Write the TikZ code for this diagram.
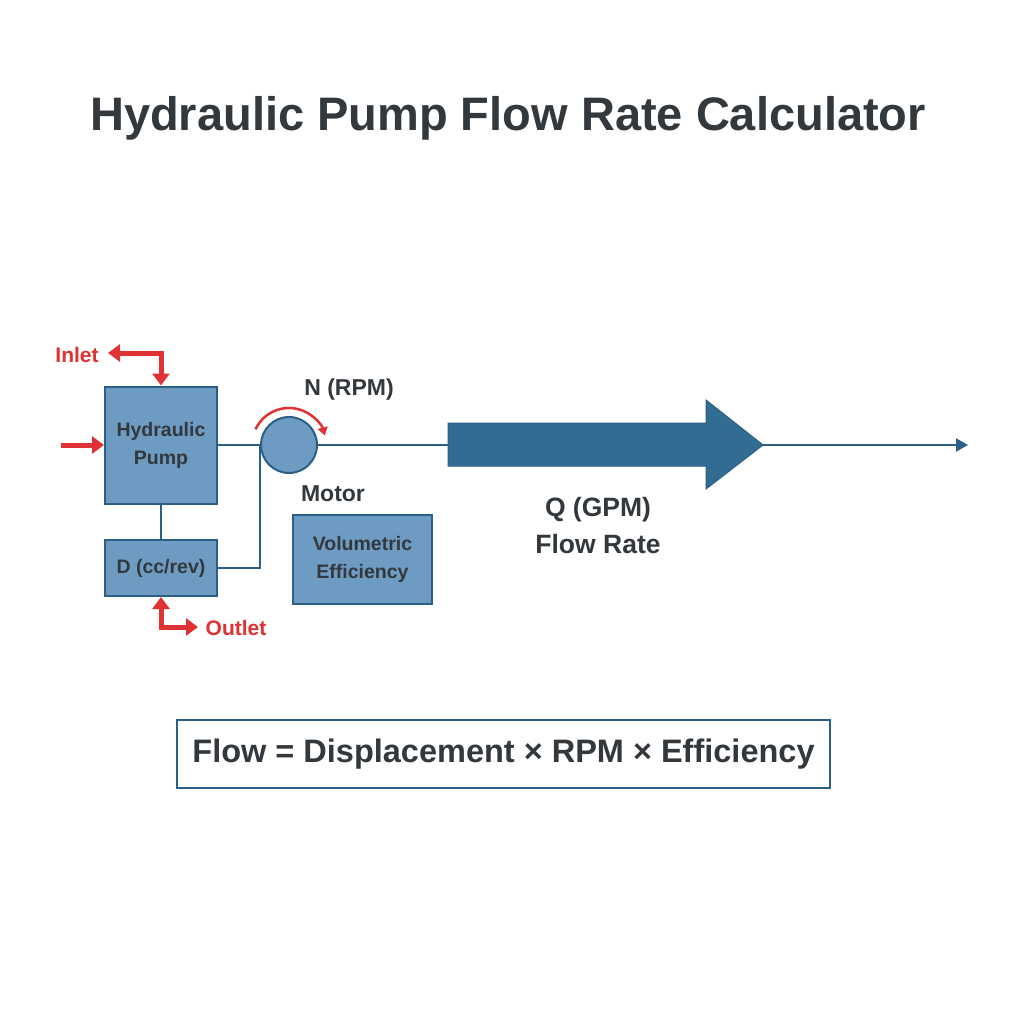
\documentclass[tikz,border=0pt]{standalone}
\usepackage{fontspec}
\setmainfont{Liberation Sans}
\usetikzlibrary{arrows.meta}
\definecolor{boxfill}{HTML}{6E9BC2}
\definecolor{boxline}{HTML}{2C5F86}
\definecolor{arrowfill}{HTML}{336C93}
\definecolor{txt}{HTML}{33383D}
\definecolor{redc}{HTML}{E03134}
\begin{document}
\begin{tikzpicture}[x=1pt,y=-1pt,
  blk/.style={draw=boxline, fill=boxfill, line width=2pt, inner sep=0pt, text=txt,
    font=\bfseries\fontsize{19.5}{28}\selectfont, align=center},
  wire/.style={draw=boxline, line width=2.2pt},
  redarr/.style={draw=redc, line width=5pt, line join=miter, -{Triangle[width=17pt,length=12pt]}},
  redarrtwo/.style={draw=redc, line width=5pt, line join=miter, {Triangle[width=17pt,length=12pt]}-{Triangle[width=17pt,length=12pt]}},
  lbl/.style={text=txt, font=\bfseries\fontsize{23}{28}\selectfont, align=center, inner sep=0pt},
  redlbl/.style={text=redc, font=\bfseries\fontsize{21}{25}\selectfont, inner sep=0pt}]
\useasboundingbox[fill=white] (0,0) rectangle (1024,1024);
% title
\node[text=txt, font=\bfseries\fontsize{47}{55}\selectfont, inner sep=0pt] (title) at (508,118) {Hydraulic Pump Flow Rate Calculator};
% blocks
\node[blk, minimum width=112pt, minimum height=117pt] (pump) at (161,445) {Hydraulic\\Pump};
\node[blk, minimum width=112pt, minimum height=56pt] (dbox) at (161,568) {D (cc/rev)};
\node[blk, circle, minimum size=56pt] (motor) at (289,445) {};
\node[blk, minimum width=139pt, minimum height=89pt] (vol) at (362.5,559.5) {Volumetric\\Efficiency};
% labels
\node[lbl] (nrpm) at (349,390) {N (RPM)};
\node[lbl] (motorlbl) at (333,494) {Motor};
\node[lbl, font=\bfseries\fontsize{26.5}{37}\selectfont] (qlbl) at (598,525.5) {Q (GPM)\\Flow Rate};
% big arrow
\coordinate (arrowL) at (448,445);
\coordinate (arrowT) at (763,445);
\coordinate (outend) at (968,445);
\filldraw[fill=arrowfill, draw=boxline, line width=1pt, line join=miter]
  (448,423) -- (706,423) -- (706,400) -- (arrowT) -- (706,489) -- (706,466) -- (448,466) -- cycle;
% wires
\draw[wire] (pump.south) -- (dbox.north);
\draw[wire] (pump.east) -- (motor.west);
\draw[wire] (dbox.east) -| (motor.west);
\draw[wire] (motor.east) -- (arrowL);
\draw[wire, -{Triangle[width=13pt,length=12pt]}] (arrowT) -- (outend);
% rotation arc
\draw[redc, line width=2.5pt, -{Triangle[width=10pt,length=8pt]}]
  ([shift={(-155:37)}]motor.center) arc[start angle=-155, end angle=-15, radius=37];
% red arrows
\coordinate (inletL) at (108,353);
\coordinate (inL) at (61,445);
\coordinate (outletR) at (198,627);
\draw[redarrtwo] (inletL) -| (pump.north);
\draw[redarr] (inL) -- (pump.west);
\draw[redarrtwo] (dbox.south) |- (outletR);
\node[redlbl] (inlet) at (77,355) {Inlet};
\node[redlbl] (outlet) at (236,628) {Outlet};
% formula
\node[draw=boxline, fill=white, line width=2.5pt, minimum width=653pt, minimum height=68pt, inner sep=0pt,
  text=txt, font=\bfseries\fontsize{32.5}{38}\selectfont] (formula) at (503.5,754)
  {Flow = Displacement × RPM × Efficiency};
\end{tikzpicture}
\end{document}
